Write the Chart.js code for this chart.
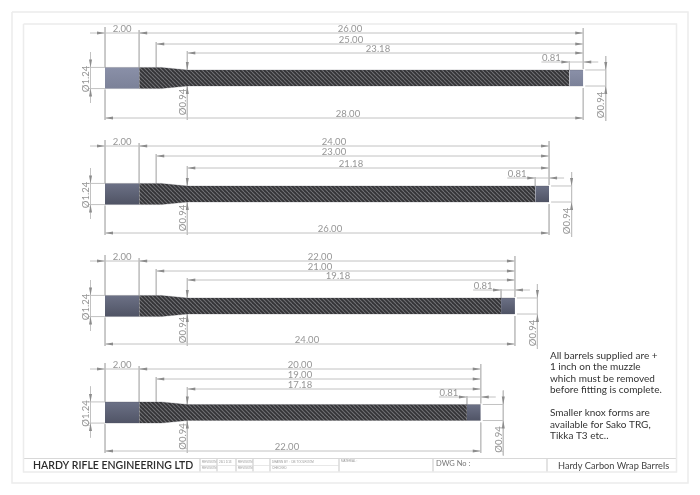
<!DOCTYPE html>
<html lang="en">
<head>
<meta charset="UTF-8">
<title>Hardy Carbon Wrap Barrels</title>
<script src="https://cdn.jsdelivr.net/npm/chart.js"></script>
<style>
  html, body { margin: 0; padding: 0; background: #fff; }
  canvas { display: block; filter: blur(0.45px); }
</style>
</head>
<body>
<canvas id="drawing" width="700" height="495"></canvas>
<script>
// barrel dimensions in inches, one entry per drawing row
const overallLength = [28, 26, 24, 22];
const shankLength = [2, 2, 2, 2];
const shankToMuzzle = [26, 24, 22, 20];
const knoxToMuzzle = [25, 23, 21, 19];
const taperToMuzzle = [23.18, 21.18, 19.18, 17.18];
const muzzleLength = [0.81, 0.81, 0.81, 0.81];
const shankDiameter = [1.24, 1.24, 1.24, 1.24];
const barrelDiameter = [0.94, 0.94, 0.94, 0.94];

// sheet rows, in sheet pixels on the sy axis
const rowCentre = [78, 194, 306, 412.5];
const level1 = [33, 146, 261, 369];
const level2 = [44, 156, 271, 379];
const level3 = [53, 168, 280, 389];
const level4 = [62, 178, 290, 397];
const levelBottom = [118, 233, 344, 451];

// where the dimension figures sit along their lines, in sheet pixels
const labelX1 = [350, 334, 320, 300];
const labelX2 = [351, 334, 320, 300];
const labelX3 = [378, 351, 338, 300];
const labelXTotal = [348, 330, 307, 287];

const titleLeft = "HARDY RIFLE ENGINEERING LTD";
const titleRight = "Hardy Carbon Wrap Barrels";
const dwgLabel = "DWG No :";
const notes = ["All barrels supplied are +", "1 inch on the muzzle", "which must be removed", "before fitting is complete.", "", "Smaller knox forms are", "available for Sako TRG,", "Tikka T3 etc.."];
const blockLabels = [["REVISION", 202, 463], ["26/1 1/13", 219, 463], ["REVISION", 238, 463], ["DRAWN BY :  DB TOOLROOM", 272, 463], ["MATERIAL :", 341, 462], ["REVISION", 202, 469], ["REVISION", 238, 469], ["CHECKED", 272, 469]];

const PX_PER_INCH = 17.08;
const ORIGIN_X = 105;
const LINE = "#c2c2c2";
const FRAME = "#ececec";
// steel shading per row: top, bottom
const steelTop = ["#8a90a8", "#6c7186", "#6c7186", "#6c7186"];
const steelBottom = ["#7b8198", "#4f5364", "#4f5364", "#505466"];

const canvas = document.getElementById("drawing");

// carbon weave, diagonal tows
function carbonPattern() {
  const c = document.createElement("canvas");
  c.width = 8; c.height = 8;
  const g = c.getContext("2d");
  g.fillStyle = "#333336";
  g.fillRect(0, 0, 8, 8);
  g.strokeStyle = "#717175";
  g.lineWidth = 1.1;
  for (let i = -8; i <= 16; i += 4) {
    g.beginPath();
    g.moveTo(i, 0);
    g.lineTo(i + 8, 8);
    g.stroke();
  }
  return g.createPattern(c, "repeat");
}
const carbon = carbonPattern();

function steel(row, top, bottom) {
  const grad = canvas.getContext("2d").createLinearGradient(0, top, 0, bottom);
  grad.addColorStop(0, steelTop[row]);
  grad.addColorStop(1, steelBottom[row]);
  return grad;
}

const datasets = [];

// thin line on the inch x axis and sheet y axis
function line(points, color, width, xAxisID, yAxisID) {
  datasets.push({
    type: "line", data: points, borderColor: color || LINE, borderWidth: width || 1,
    pointRadius: 0, fill: false, tension: 0, xAxisID: xAxisID || "x", yAxisID: yAxisID || "sy", order: 2
  });
}

// band between two profile lines, on inch axes so the diameters are true to scale
function band(row, xs, diameters, fillStyle) {
  const c = rowCentre[row] / PX_PER_INCH;
  const top = xs.map((x, i) => ({ x: x, y: c - diameters[i] / 2 }));
  const bot = xs.map((x, i) => ({ x: x, y: c + diameters[i] / 2 }));
  datasets.push({
    type: "line", data: top, borderColor: "rgba(60,60,65,0.45)", borderWidth: 0.5, pointRadius: 0,
    backgroundColor: fillStyle, fill: "+1", tension: 0, xAxisID: "x", yAxisID: "y", order: 1
  });
  datasets.push({
    type: "line", data: bot, borderColor: "rgba(60,60,65,0.45)", borderWidth: 0.5, pointRadius: 0,
    fill: false, tension: 0, xAxisID: "x", yAxisID: "y", order: 1
  });
}

const arrows = [];
const labels = [];
const P = 1 / PX_PER_INCH; // one sheet pixel in inches
const toInch = px => (px - ORIGIN_X) * P;

overallLength.forEach((L, r) => {
  const shank = shankLength[r];
  const knox = L - knoxToMuzzle[r];
  const taper = L - taperToMuzzle[r];
  const muzzle = L - muzzleLength[r];
  const dS = shankDiameter[r];
  const dB = barrelDiameter[r];
  const cy = rowCentre[r];
  const halfS = dS / 2 * PX_PER_INCH;
  const halfB = dB / 2 * PX_PER_INCH;
  const y1 = level1[r], y2 = level2[r], y3 = level3[r], y4 = level4[r], yb = levelBottom[r];

  // the barrel
  band(r, [0, shank], [dS, dS], steel(r, cy - halfS, cy + halfS));
  band(r, [shank, knox + 0.3, taper, muzzle], [dS, dS, dB, dB], carbon);
  band(r, [muzzle, L], [dB, dB], steel(r, cy - halfB, cy + halfB));

  // extension lines
  line([{x: 0, y: y1 - 6}, {x: 0, y: cy - halfS}]);
  line([{x: 0, y: cy + halfS + 1}, {x: 0, y: yb + 2}]);
  line([{x: shank, y: y1 - 3}, {x: shank, y: cy - halfS}]);
  line([{x: knox, y: y2 - 2}, {x: knox, y: cy - halfS}]);
  line([{x: taper, y: y3 - 2}, {x: taper, y: cy - halfB}]);
  line([{x: taper, y: cy + halfB}, {x: taper, y: yb + 2}]);
  line([{x: L, y: y1 - 5}, {x: L, y: cy - halfB - 1}]);
  line([{x: L, y: cy + halfB + 2}, {x: L, y: yb + 2}]);
  line([{x: muzzle, y: y4 - 1}, {x: muzzle, y: cy - halfB}]);

  // 2.00 shank dimension
  line([{x: -15 * P, y: y1}, {x: shank + 6 * P, y: y1}]);
  arrows.push([0, y1, 1]);
  labels.push([shank.toFixed(2), shank / 2, y1 - 1.5, 0]);

  // long dimensions to the muzzle
  line([{x: shank, y: y1}, {x: L, y: y1}]);
  arrows.push([shank, y1, -1], [L, y1, 1]);
  labels.push([shankToMuzzle[r].toFixed(2), toInch(labelX1[r]), y1 - 1.5, 0]);
  line([{x: knox, y: y2}, {x: L, y: y2}]);
  arrows.push([knox, y2, -1], [L, y2, 1]);
  labels.push([knoxToMuzzle[r].toFixed(2), toInch(labelX2[r]), y2 - 1.5, 0]);
  line([{x: taper, y: y3}, {x: L, y: y3}]);
  arrows.push([taper, y3, -1], [L, y3, 1]);
  labels.push([taperToMuzzle[r].toFixed(2), toInch(labelX3[r]), y3 - 1.5, 0]);

  // overall length
  line([{x: 0, y: yb}, {x: L, y: yb}]);
  arrows.push([0, yb, -1], [L, yb, 1]);
  labels.push([L.toFixed(2), toInch(labelXTotal[r]), yb - 1.5, 0]);

  // muzzle length
  line([{x: muzzle - 28 * P, y: y4}, {x: L + 15 * P, y: y4}]);
  arrows.push([muzzle, y4, 1], [L, y4, -1]);
  labels.push([muzzleLength[r].toFixed(2), muzzle - 18 * P, y4 - 1.5, 0]);

  // shank diameter, left
  const xd = -14.5 * P;
  line([{x: xd, y: cy - 26}, {x: xd, y: cy + 25}]);
  line([{x: -17 * P, y: cy - halfS}, {x: 0, y: cy - halfS}]);
  line([{x: -17 * P, y: cy + halfS}, {x: 0, y: cy + halfS}]);
  arrows.push([xd, cy - halfS, 2], [xd, cy + halfS, -2]);
  labels.push(["\u00d81.24", xd - 1.5 * P, cy + 1, -90]);

  // barrel diameter at the taper
  line([{x: taper, y: cy - halfB - 8}, {x: taper, y: cy + halfB + 8}], LINE);
  arrows.push([taper, cy - halfB, 2], [taper, cy + halfB, -2]);
  labels.push(["\u00d80.94", taper - 1.5 * P, cy + 24, -90]);

  // barrel diameter at the muzzle, right
  const xr = L + 22.5 * P;
  line([{x: xr, y: cy - 22}, {x: xr, y: cy + 43}]);
  line([{x: L + 2 * P, y: cy - halfB}, {x: xr, y: cy - halfB}]);
  line([{x: L + 2 * P, y: cy + halfB}, {x: xr, y: cy + halfB}]);
  arrows.push([xr, cy - halfB, 2], [xr, cy + halfB, -2]);
  labels.push(["\u00d80.94", xr - 1.5 * P, cy + 27, -90]);
});

// sheet furniture on the sx/sy axes
function rect(x1, y1, x2, y2, color, width) {
  line([{x: x1, y: y1}, {x: x2, y: y1}, {x: x2, y: y2}, {x: x1, y: y2}, {x: x1, y: y1}], color, width, "sx", "sy");
}
rect(12, 12, 688, 483, FRAME, 1.5);
rect(23.5, 24, 676.5, 472, FRAME, 1.5);
line([{x: 23, y: 458.5}, {x: 676, y: 458.5}], "#d8d8d8", 1, "sx", "sy");
[200, 217, 236, 253, 270, 339, 433, 547].forEach(x => {
  line([{x: x, y: 458.5}, {x: x, y: 472}], "#dcdcdc", 0.8, "sx", "sy");
});
line([{x: 200, y: 465.5}, {x: 339, y: 465.5}], "#e2e2e2", 0.8, "sx", "sy");

// arrowheads and all lettering, placed through the chart's own scales
const sheetText = {
  id: "sheetText",
  afterDatasetsDraw(chart) {
    const { ctx, scales } = chart;
    const sx = scales.x, sy = scales.sy, px = scales.sx;
    ctx.save();
    // dir: 1 head ends at point going right, -1 going left, 2 down, -2 up
    arrows.forEach(([x, y, dir]) => {
      const cx = sx.getPixelForValue(x), cy = sy.getPixelForValue(y);
      ctx.save();
      ctx.translate(cx, cy);
      ctx.rotate(dir === 1 ? 0 : dir === -1 ? Math.PI : dir === 2 ? Math.PI / 2 : -Math.PI / 2);
      ctx.fillStyle = "#8c8c8c";
      ctx.beginPath();
      ctx.moveTo(0, 0);
      ctx.lineTo(-8, -1.5);
      ctx.lineTo(-8, 1.5);
      ctx.closePath();
      ctx.fill();
      ctx.restore();
    });

    ctx.fillStyle = "#969696";
    ctx.font = "9.5px Lato";
    ctx.textAlign = "center";
    ctx.textBaseline = "alphabetic";
    labels.forEach(([text, x, y, rot]) => {
      ctx.save();
      ctx.translate(sx.getPixelForValue(x), sy.getPixelForValue(y));
      ctx.rotate(rot * Math.PI / 180);
      ctx.fillText(text, 0, 0);
      ctx.restore();
    });

    ctx.textAlign = "left";
    ctx.fillStyle = "#2b2b2b";
    ctx.font = "600 10.5px Lato";
    ctx.fillText(titleLeft, px.getPixelForValue(33), sy.getPixelForValue(469));
    ctx.fillStyle = "#444";
    ctx.font = "9.2px Lato";
    ctx.fillText(titleRight, px.getPixelForValue(558), sy.getPixelForValue(469));
    ctx.fillStyle = "#777";
    ctx.font = "7.5px Lato";
    ctx.fillText(dwgLabel, px.getPixelForValue(436), sy.getPixelForValue(466));
    ctx.fillStyle = "#999";
    ctx.font = "3px 'Liberation Sans'";
    blockLabels.forEach(([t, x, y]) => ctx.fillText(t, px.getPixelForValue(x), sy.getPixelForValue(y)));

    ctx.fillStyle = "#333";
    ctx.font = "10px Lato";
    notes.forEach((t, i) => ctx.fillText(t, px.getPixelForValue(550), sy.getPixelForValue(358.5 + i * 11.5)));
    ctx.restore();
  }
};

new Chart(canvas, {
  data: { datasets: datasets },
  plugins: [sheetText],
  options: {
    responsive: false,
    animation: false,
    parsing: false,
    normalized: true,
    layout: { padding: 0 },
    plugins: { legend: { display: false }, tooltip: { enabled: false }, title: { display: false } },
    scales: {
      x: { type: "linear", display: false, min: -ORIGIN_X / PX_PER_INCH, max: (700 - ORIGIN_X) / PX_PER_INCH },
      y: { type: "linear", display: false, reverse: true, min: 0, max: 495 / PX_PER_INCH },
      sx: { type: "linear", display: false, min: 0, max: 700 },
      sy: { type: "linear", display: false, reverse: true, min: 0, max: 495 }
    }
  }
});
</script>
</body>
</html>
